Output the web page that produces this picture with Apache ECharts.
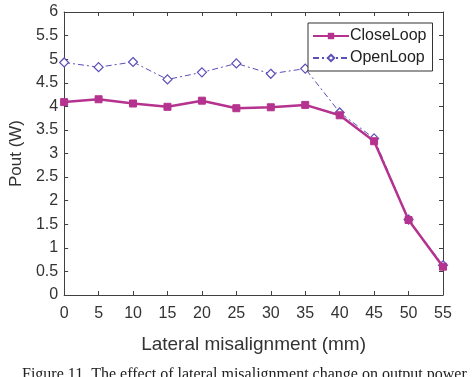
<!DOCTYPE html>
<html>
<head>
<meta charset="utf-8">
<script src="https://cdn.jsdelivr.net/npm/echarts@6/dist/echarts.min.js"></script>
<style>
  html, body { margin: 0; padding: 0; background: #fff; }
  #chart { width: 474px; height: 377px; }
</style>
</head>
<body>
<div id="chart"></div>
<script>
// lateral misalignment (mm)
const misalignment = [0, 5, 10, 15, 20, 25, 30, 35, 40, 45, 50, 55];
// output power (W)
const closeLoop = [4.09, 4.15, 4.06, 3.99, 4.12, 3.96, 3.98, 4.03, 3.81, 3.26, 1.59, 0.60];
const openLoop = [4.93, 4.83, 4.94, 4.57, 4.72, 4.91, 4.69, 4.80, 3.87, 3.32, 1.60, 0.63];

const closeColor = '#b5338f';
const openColor = '#5b4fb8';
const axisColor = '#404040';
const labelFont = 'Liberation Sans, Arial, sans-serif';

const chart = echarts.init(document.getElementById('chart'));

function pairs(vals) {
  return misalignment.map((x, i) => [x, vals[i]]);
}

// matlab style box: all four sides, ticks pointing in
const boxAxis = {
  axisLine: { show: true, onZero: false, lineStyle: { color: axisColor, width: 1 } },
  axisTick: { show: true, inside: true, length: 4, lineStyle: { color: axisColor } },
  splitLine: { show: false }
};

const option = {
  animation: false,
  title: {
    text: 'Figure 11. The effect of lateral misalignment change on output power',
    left: 17,
    top: 362,
    textStyle: {
      fontFamily: 'Liberation Serif, Times New Roman, serif',
      fontWeight: 'normal',
      fontSize: 16,
      color: '#222'
    }
  },
  grid: { left: 63, top: 12, right: 31, bottom: 82 },
  legend: {
    orient: 'vertical',
    left: 308,
    top: 23,
    itemWidth: 36,
    itemHeight: 8,
    itemGap: 6,
    padding: [5, 6, 5, 4],
    backgroundColor: '#fff',
    borderColor: '#333',
    borderWidth: 1,
    textStyle: { fontFamily: labelFont, fontSize: 16, color: '#222', padding: [0, 0, 0, -4] },
    data: ['CloseLoop', 'OpenLoop']
  },
  xAxis: [
    Object.assign({
      type: 'value',
      min: 0, max: 55, interval: 5,
      name: 'Lateral misalignment (mm)',
      nameLocation: 'middle',
      nameGap: 40,
      nameTextStyle: { fontFamily: labelFont, fontSize: 19, color: '#333' },
      axisLabel: { fontFamily: labelFont, fontSize: 16, color: '#333', margin: 11 }
    }, boxAxis),
    Object.assign({
      type: 'value', position: 'top',
      min: 0, max: 55, interval: 5,
      axisLabel: { show: false }
    }, boxAxis)
  ],
  yAxis: [
    Object.assign({
      type: 'value',
      min: 0, max: 6, interval: 0.5,
      name: 'Pout (W)',
      nameLocation: 'middle',
      nameGap: 38,
      nameTextStyle: { fontFamily: labelFont, fontSize: 17, color: '#333' },
      axisLabel: { fontFamily: labelFont, fontSize: 16, color: '#333', margin: 6 }
    }, boxAxis),
    Object.assign({
      type: 'value', position: 'right',
      min: 0, max: 6, interval: 0.5,
      axisLabel: { show: false }
    }, boxAxis)
  ],
  series: [
    {
      name: 'OpenLoop',
      type: 'line',
      data: pairs(openLoop),
      symbol: 'diamond',
      symbolSize: 9,
      itemStyle: { color: '#fff', borderColor: openColor, borderWidth: 1.2 },
      lineStyle: { color: openColor, width: 1, type: [6, 3, 2, 3] },
      z: 2
    },
    {
      name: 'CloseLoop',
      type: 'line',
      data: pairs(closeLoop),
      symbol: 'rect',
      symbolSize: 7,
      itemStyle: { color: closeColor, borderColor: closeColor },
      lineStyle: { color: closeColor, width: 2.5 },
      z: 3
    }
  ]
};

chart.setOption(option);
</script>
</body>
</html>
